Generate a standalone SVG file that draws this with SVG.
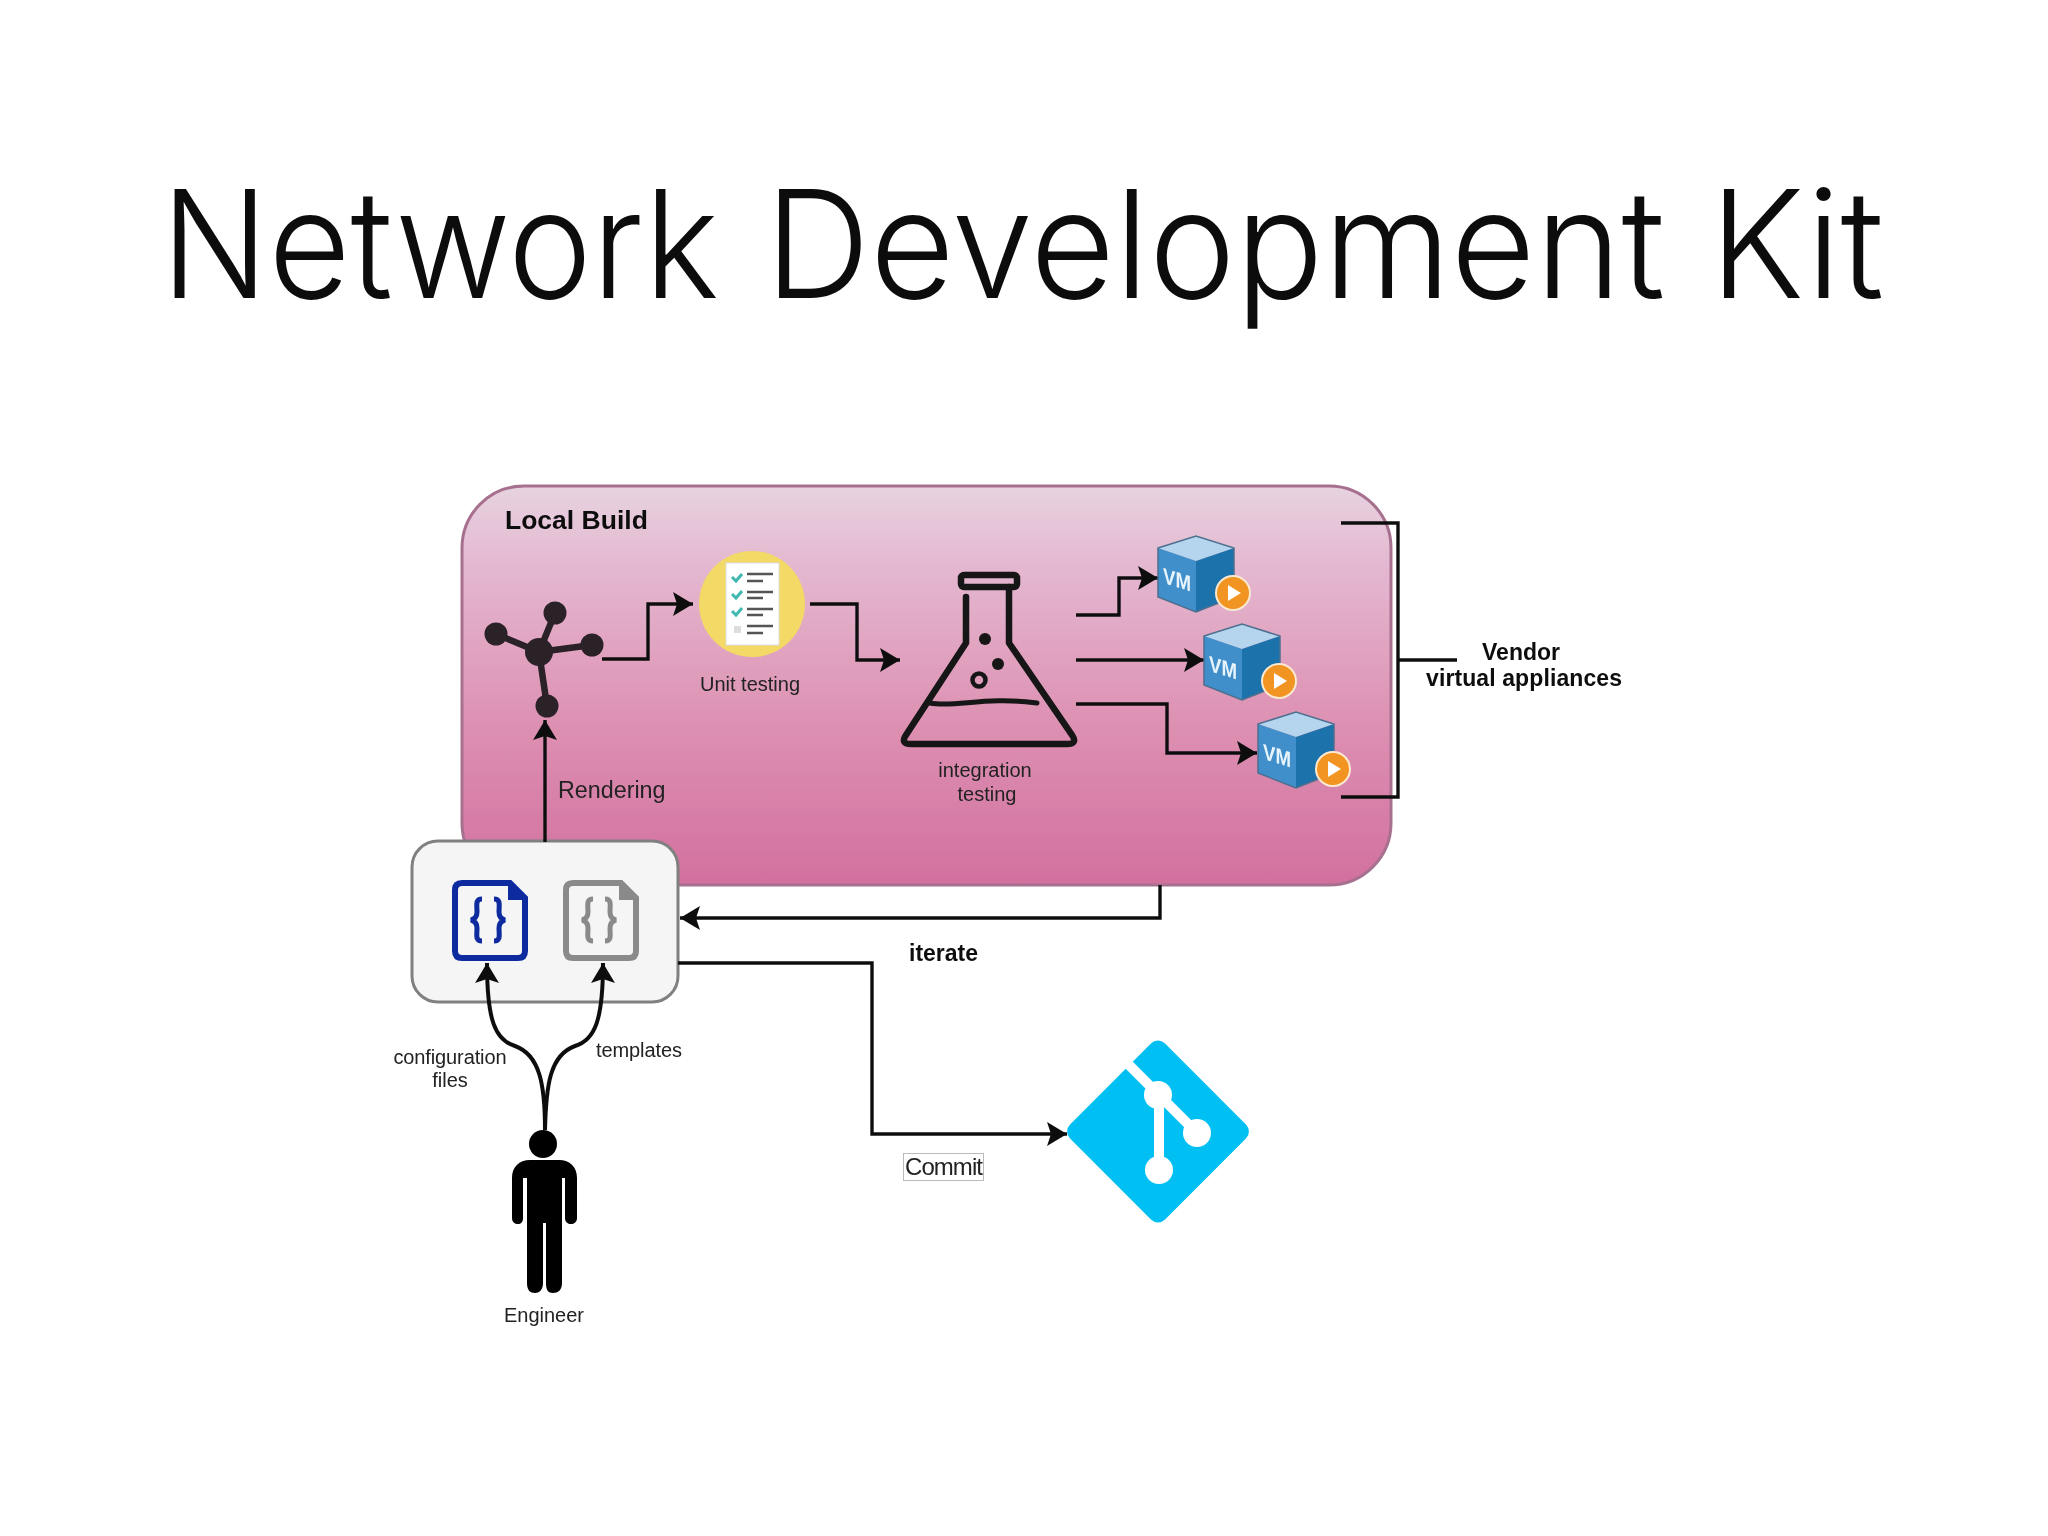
<svg xmlns="http://www.w3.org/2000/svg" width="2048" height="1536" viewBox="0 0 2048 1536">
<style>
text{font-family:"Liberation Sans",Arial,sans-serif;fill:#222}
.b{font-weight:bold;fill:#111}
.c{fill:none;stroke:#111;stroke-width:3.4;stroke-linejoin:miter}
.arr{marker-end:url(#ah)}
.fl{fill:none;stroke:#151515;stroke-width:6.5;stroke-linecap:round;stroke-linejoin:round}
.hub{fill:#2a2228}
.sp{stroke:#2a2228;stroke-width:6.5}
.ln{stroke:#555;stroke-width:2.6}
.chk{fill:none;stroke:#3fb8b0;stroke-width:3}
.vm{font-size:22px;font-weight:bold;fill:#e8f4fb}
.gw{stroke:#fff;stroke-width:10;fill:none}
</style>
<defs>
<linearGradient id="pg" x1="0" y1="0" x2="0" y2="1"><stop offset="0" stop-color="#e7d3e0"/><stop offset=".2" stop-color="#e4b8d0"/><stop offset=".6" stop-color="#dd90b2"/><stop offset="1" stop-color="#d2709e"/></linearGradient>
<marker id="ah" markerUnits="userSpaceOnUse" markerWidth="24" markerHeight="26" refX="20" refY="12" orient="auto"><path d="M0 0L20 12L0 24L4 12Z" fill="#111"/></marker>
<g id="cube">
<path d="M0 12L38 0L76 12L38 25Z" fill="#b5d5ee"/>
<path d="M0 12L38 25V76L0 61Z" fill="#3f8fcb"/>
<path d="M38 25L76 12V61L38 76Z" fill="#1f72ab"/>
<path d="M0 12L38 0L76 12V61L38 76L0 61Z" fill="none" stroke="#4d6f8f" stroke-width="1.5"/>
</g>
<g id="badge"><circle r="17" fill="#f29420" stroke="#fbe8d0" stroke-width="2"/><path d="M-5 -8L8 0L-5 8Z" fill="#fff"/></g>
<path id="brace" d="M-6 -21C-13 -21-11 -15-11 -8C-11 -3-13 -1-17 0C-13 1-11 3-11 8C-11 15-13 21-6 21M6 -21C13 -21 11 -15 11 -8C11 -3 13 -1 17 0C13 1 11 3 11 8C11 15 13 21 6 21" fill="none" stroke-width="5"/>
<path id="doc" d="M462 883H510L525 898V951Q525 958 518 958H462Q455 958 455 951V890Q455 883 462 883Z" fill="none" stroke-width="6"/>
<path id="fold" d="M508 883L526 900H508Z"/>
<filter id="soft" x="-2%" y="-2%" width="104%" height="104%"><feGaussianBlur stdDeviation="0.6"/></filter>
</defs>
<rect width="2048" height="1536" fill="#fff"/>
<text id="title" y="298" font-size="150" lengthAdjust="spacingAndGlyphs" style="font-family:Inter,'Liberation Sans',sans-serif;font-weight:300;fill:#0c0c0c"><tspan x="161" textLength="558" lengthAdjust="spacingAndGlyphs">Network</tspan> <tspan x="765" textLength="900" lengthAdjust="spacingAndGlyphs">Development</tspan> <tspan x="1710" textLength="174" lengthAdjust="spacingAndGlyphs">Kit</tspan></text>
<g filter="url(#soft)">
<g id="panel"><rect x="462" y="486" width="929" height="399" rx="62" fill="url(#pg)" stroke="#a8708f" stroke-width="3"/>
<text class="b" x="505" y="529" font-size="26.5">Local Build</text></g>

<g id="files">
<rect x="412" y="841" width="266" height="161" rx="26" fill="#f5f5f5" stroke="#808080" stroke-width="3"/>
<use href="#doc" stroke="#0a2a9e"/><use href="#fold" fill="#0a2a9e"/><use href="#brace" x="488" y="920" stroke="#0a2a9e"/>
<use href="#doc" x="111" stroke="#8a8a8a"/><use href="#fold" x="111" fill="#8a8a8a"/><use href="#brace" x="599" y="920" stroke="#8a8a8a"/>
</g>

<g id="connectors">
<path class="c arr" d="M545 842V720"/>
<path class="c arr" d="M602 659H648V604H693"/>
<path class="c arr" d="M810 604H857V660H900"/>
<path class="c arr" d="M1076 615H1119V578H1158"/>
<path class="c arr" d="M1076 660H1204"/>
<path class="c arr" d="M1076 704H1167V753H1257"/>
<path class="c" d="M1341 523H1398V797H1341M1398 660H1457"/>
<path class="c arr" d="M1160 885V918H680"/>
<path class="c arr" d="M678 963H872V1134H1067"/>
<path class="c arr" style="stroke-width:4" d="M545 1130C545 1085 540 1055 515 1046C495 1040 487 1020 487 963"/>
<path class="c arr" style="stroke-width:4" d="M545 1130C546 1085 550 1055 575 1046C595 1040 603 1020 603 963"/>
</g>

<g id="render-node">
<path class="sp" d="M539 652L555 613M539 652L496 634M539 652L592 645M539 652L547 706"/>
<circle class="hub" cx="539" cy="652" r="14"/><circle class="hub" cx="555" cy="613" r="11.5"/><circle class="hub" cx="496" cy="634" r="11.5"/><circle class="hub" cx="592" cy="645" r="11.5"/><circle class="hub" cx="547" cy="706" r="11.5"/>
<text x="558" y="798" font-size="23.3">Rendering</text>
</g>

<g id="unit-testing">
<circle cx="752" cy="604" r="53" fill="#f3d965"/>
<rect x="726" y="563" width="53" height="82" fill="#fff" stroke="#ddd" stroke-width="1"/>
<path class="ln" d="M747 574H773M747 581H763M747 592H773M747 598H763M747 609H773M747 615H763M747 626H773M747 633H763"/>
<path class="chk" d="M732 577L736 581L742 574M732 594L736 598L742 591M732 611L736 615L742 608"/>
<rect x="734" y="626" width="7" height="7" fill="#ddd"/>
<text x="750" y="691" font-size="20" text-anchor="middle">Unit testing</text>
</g>

<g id="integration-testing">
<rect class="fl" x="961" y="575" width="56" height="12" rx="3"/>
<path class="fl" d="M966 597V643L906 735Q900 744 911 744H1067Q1078 744 1072 735L1009 643V587"/>
<path class="fl" d="M930 703C955 708 985 696 1037 703" style="stroke-width:5"/>
<circle cx="985" cy="639" r="6" fill="#151515"/><circle cx="998" cy="664" r="6" fill="#151515"/>
<circle cx="979" cy="680" r="6.5" fill="none" stroke="#151515" stroke-width="4.5"/>
<text x="985" y="777" font-size="20" text-anchor="middle">integration</text>
<text x="987" y="801" font-size="20" text-anchor="middle">testing</text>
</g>

<g id="vm1"><use href="#cube" x="1158" y="536"/><text class="vm" transform="translate(1163 583) skewY(17)" textLength="28" lengthAdjust="spacingAndGlyphs">VM</text><use href="#badge" x="1233" y="593"/></g>
<g id="vm2"><use href="#cube" x="1204" y="624"/><text class="vm" transform="translate(1209 671) skewY(17)" textLength="28" lengthAdjust="spacingAndGlyphs">VM</text><use href="#badge" x="1279" y="681"/></g>
<g id="vm3"><use href="#cube" x="1258" y="712"/><text class="vm" transform="translate(1263 759) skewY(17)" textLength="28" lengthAdjust="spacingAndGlyphs">VM</text><use href="#badge" x="1333" y="769"/></g>

<g id="vendor"><text class="b" x="1521" y="660" font-size="23" text-anchor="middle">Vendor</text>
<text class="b" x="1524" y="686" font-size="23" text-anchor="middle" textLength="196">virtual appliances</text></g>

<g id="iterate-label"><text class="b" x="909" y="961" font-size="23">iterate</text></g>

<g id="file-labels"><text x="450" y="1064" font-size="20" text-anchor="middle" textLength="113">configuration</text>
<text x="450" y="1087" font-size="20" text-anchor="middle">files</text>
<text x="596" y="1057" font-size="20" textLength="86">templates</text></g>

<g id="engineer"><circle cx="543" cy="1144" r="14" fill="#000"/>
<path fill="#000" d="M530 1160H559C570 1160 577 1167 577 1178V1218C577 1222 574 1224 571 1224C568 1224 565 1222 565 1218V1178H562V1283C562 1290 558 1293 553 1293C548 1293 546 1290 546 1283V1223H543V1283C543 1290 539 1293 535 1293C530 1293 527 1290 527 1283V1178H523V1218C523 1222 521 1224 518 1224C515 1224 512 1222 512 1218V1178C512 1167 519 1160 530 1160Z"/>
<text x="544" y="1322" font-size="20" text-anchor="middle">Engineer</text></g>

<g id="commit-label"><rect x="903.5" y="1153.5" width="80" height="27" fill="#fff" stroke="#bbb" stroke-width="1"/><text x="905" y="1175" font-size="24" textLength="78">Commit</text></g>

<g id="git">
<rect x="1090.8" y="1064.3" width="134.4" height="134.4" rx="10" transform="rotate(45 1158 1131.5)" fill="#00bff3"/>
<path class="gw" d="M1120 1056L1197 1133M1159 1095V1170"/>
<circle cx="1158" cy="1095" r="14" fill="#fff"/><circle cx="1197" cy="1133" r="14" fill="#fff"/><circle cx="1159" cy="1170" r="14" fill="#fff"/>
</g>
</g>
</svg>
